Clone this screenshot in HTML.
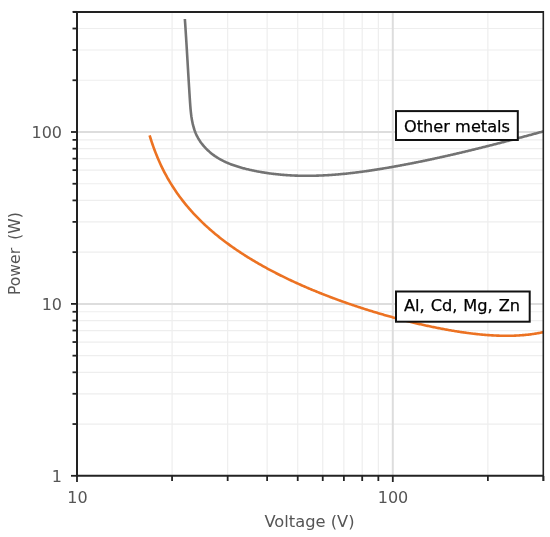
<!DOCTYPE html>
<html><head><meta charset="utf-8"><style>html,body{margin:0;padding:0;background:#fff;}svg{display:block;}</style></head>
<body>
<svg width="550" height="537" viewBox="0 0 550 537">
<rect width="550" height="537" fill="#fff"/>
<line x1="172.07" y1="12" x2="172.07" y2="475" stroke="#eeeeee" stroke-width="1.2"/>
<line x1="227.67" y1="12" x2="227.67" y2="475" stroke="#eeeeee" stroke-width="1.2"/>
<line x1="267.13" y1="12" x2="267.13" y2="475" stroke="#eeeeee" stroke-width="1.2"/>
<line x1="297.73" y1="12" x2="297.73" y2="475" stroke="#eeeeee" stroke-width="1.2"/>
<line x1="322.74" y1="12" x2="322.74" y2="475" stroke="#eeeeee" stroke-width="1.2"/>
<line x1="343.88" y1="12" x2="343.88" y2="475" stroke="#eeeeee" stroke-width="1.2"/>
<line x1="362.20" y1="12" x2="362.20" y2="475" stroke="#eeeeee" stroke-width="1.2"/>
<line x1="378.35" y1="12" x2="378.35" y2="475" stroke="#eeeeee" stroke-width="1.2"/>
<line x1="487.87" y1="12" x2="487.87" y2="475" stroke="#eeeeee" stroke-width="1.2"/>
<line x1="78" y1="424.05" x2="543" y2="424.05" stroke="#eeeeee" stroke-width="1.2"/>
<line x1="78" y1="393.78" x2="543" y2="393.78" stroke="#eeeeee" stroke-width="1.2"/>
<line x1="78" y1="372.31" x2="543" y2="372.31" stroke="#eeeeee" stroke-width="1.2"/>
<line x1="78" y1="355.65" x2="543" y2="355.65" stroke="#eeeeee" stroke-width="1.2"/>
<line x1="78" y1="342.04" x2="543" y2="342.04" stroke="#eeeeee" stroke-width="1.2"/>
<line x1="78" y1="330.53" x2="543" y2="330.53" stroke="#eeeeee" stroke-width="1.2"/>
<line x1="78" y1="320.56" x2="543" y2="320.56" stroke="#eeeeee" stroke-width="1.2"/>
<line x1="78" y1="311.77" x2="543" y2="311.77" stroke="#eeeeee" stroke-width="1.2"/>
<line x1="78" y1="252.15" x2="543" y2="252.15" stroke="#eeeeee" stroke-width="1.2"/>
<line x1="78" y1="221.88" x2="543" y2="221.88" stroke="#eeeeee" stroke-width="1.2"/>
<line x1="78" y1="200.41" x2="543" y2="200.41" stroke="#eeeeee" stroke-width="1.2"/>
<line x1="78" y1="183.75" x2="543" y2="183.75" stroke="#eeeeee" stroke-width="1.2"/>
<line x1="78" y1="170.14" x2="543" y2="170.14" stroke="#eeeeee" stroke-width="1.2"/>
<line x1="78" y1="158.63" x2="543" y2="158.63" stroke="#eeeeee" stroke-width="1.2"/>
<line x1="78" y1="148.66" x2="543" y2="148.66" stroke="#eeeeee" stroke-width="1.2"/>
<line x1="78" y1="139.87" x2="543" y2="139.87" stroke="#eeeeee" stroke-width="1.2"/>
<line x1="78" y1="80.25" x2="543" y2="80.25" stroke="#eeeeee" stroke-width="1.2"/>
<line x1="78" y1="49.98" x2="543" y2="49.98" stroke="#eeeeee" stroke-width="1.2"/>
<line x1="78" y1="28.51" x2="543" y2="28.51" stroke="#eeeeee" stroke-width="1.2"/>
<line x1="392.80" y1="12" x2="392.80" y2="475" stroke="#dddddd" stroke-width="2"/>
<line x1="78" y1="303.90" x2="543" y2="303.90" stroke="#dddddd" stroke-width="2"/>
<line x1="78" y1="132.00" x2="543" y2="132.00" stroke="#dddddd" stroke-width="2"/>
<path d="M184.86,19.00 L184.88,19.27 L184.94,20.09 L184.99,20.91 L185.05,21.73 L185.11,22.54 L185.16,23.36 L185.22,24.18 L185.27,24.99 L185.33,25.81 L185.38,26.62 L185.43,27.43 L185.49,28.25 L185.54,29.06 L185.59,29.87 L185.64,30.68 L185.70,31.49 L185.75,32.30 L185.80,33.11 L185.85,33.91 L185.90,34.72 L185.96,35.53 L186.01,36.33 L186.06,37.14 L186.11,37.94 L186.16,38.75 L186.21,39.55 L186.26,40.36 L186.31,41.16 L186.36,41.96 L186.41,42.77 L186.46,43.57 L186.51,44.37 L186.56,45.17 L186.61,45.98 L186.65,46.78 L186.70,47.58 L186.75,48.38 L186.80,49.18 L186.85,49.98 L186.90,50.78 L186.95,51.58 L186.99,52.38 L187.04,53.18 L187.09,53.98 L187.14,54.77 L187.19,55.57 L187.23,56.37 L187.28,57.17 L187.33,57.97 L187.38,58.77 L187.42,59.57 L187.47,60.37 L187.52,61.16 L187.57,61.96 L187.61,62.76 L187.66,63.56 L187.71,64.36 L187.76,65.16 L187.80,65.96 L187.85,66.76 L187.90,67.56 L187.95,68.36 L187.99,69.15 L188.04,69.95 L188.09,70.75 L188.14,71.55 L188.18,72.36 L188.23,73.16 L188.28,73.96 L188.33,74.76 L188.38,75.56 L188.42,76.36 L188.47,77.16 L188.52,77.97 L188.57,78.77 L188.62,79.57 L188.67,80.38 L188.71,81.18 L188.76,81.99 L188.81,82.79 L188.86,83.60 L188.91,84.40 L188.96,85.21 L189.01,86.02 L189.06,86.83 L189.11,87.63 L189.16,88.44 L189.21,89.25 L189.26,90.06 L189.31,90.87 L189.36,91.68 L189.41,92.50 L189.46,93.31 L189.52,94.12 L189.57,94.94 L189.62,95.75 L189.67,96.57 L189.72,97.38 L189.78,98.20 L189.83,99.02 L189.88,99.84 L189.94,100.66 L189.99,101.48 L190.05,102.30 L190.10,103.12 L190.16,103.94 L190.22,104.77 L190.28,105.59 L190.34,106.41 L190.41,107.23 L190.47,108.05 L190.54,108.87 L190.62,109.69 L190.70,110.51 L190.78,111.33 L190.86,112.14 L190.95,112.96 L191.05,113.77 L191.14,114.59 L191.25,115.40 L191.36,116.20 L191.47,117.01 L191.60,117.81 L191.72,118.62 L191.86,119.42 L192.00,120.21 L192.15,121.01 L192.30,121.80 L192.46,122.58 L192.64,123.37 L192.81,124.15 L193.00,124.93 L193.20,125.70 L193.40,126.47 L193.62,127.24 L193.84,128.00 L194.08,128.76 L194.32,129.51 L194.58,130.26 L194.84,131.00 L195.12,131.74 L195.40,132.47 L195.70,133.20 L196.01,133.93 L196.34,134.64 L196.67,135.36 L197.02,136.06 L197.38,136.76 L197.75,137.46 L198.13,138.15 L198.53,138.83 L198.94,139.51 L199.36,140.18 L199.79,140.84 L200.23,141.50 L200.68,142.15 L201.15,142.79 L201.62,143.43 L202.11,144.06 L202.60,144.68 L203.11,145.30 L203.62,145.91 L204.14,146.51 L204.68,147.11 L205.22,147.70 L205.77,148.28 L206.33,148.85 L206.90,149.42 L207.47,149.98 L208.06,150.53 L208.65,151.07 L209.25,151.61 L209.86,152.14 L210.47,152.66 L211.09,153.17 L211.72,153.67 L212.36,154.17 L213.00,154.66 L213.65,155.13 L214.30,155.60 L214.96,156.07 L215.63,156.52 L216.30,156.96 L216.97,157.40 L217.66,157.83 L218.34,158.24 L219.03,158.66 L219.73,159.06 L220.43,159.45 L221.14,159.84 L221.85,160.22 L222.56,160.59 L223.28,160.95 L224.00,161.31 L224.73,161.66 L225.46,162.00 L226.19,162.33 L226.93,162.66 L227.67,162.98 L228.42,163.29 L229.17,163.60 L229.92,163.90 L230.68,164.20 L231.43,164.49 L232.19,164.77 L232.96,165.05 L233.72,165.32 L234.49,165.59 L235.27,165.85 L236.04,166.10 L236.81,166.35 L237.59,166.59 L238.37,166.83 L239.15,167.07 L239.94,167.30 L240.72,167.52 L241.51,167.74 L242.30,167.96 L243.09,168.17 L243.88,168.38 L244.67,168.58 L245.46,168.79 L246.26,168.98 L247.05,169.17 L247.85,169.36 L248.64,169.55 L249.44,169.73 L250.23,169.91 L251.03,170.09 L251.83,170.26 L252.62,170.43 L253.42,170.60 L254.22,170.77 L255.01,170.93 L255.81,171.09 L256.61,171.24 L257.41,171.40 L258.20,171.55 L259.00,171.69 L259.80,171.84 L260.60,171.98 L261.40,172.12 L262.19,172.26 L262.99,172.39 L263.79,172.52 L264.59,172.65 L265.39,172.77 L266.19,172.89 L266.99,173.01 L267.79,173.13 L268.59,173.24 L269.39,173.36 L270.19,173.46 L270.99,173.57 L271.79,173.67 L272.59,173.77 L273.39,173.87 L274.19,173.97 L274.99,174.06 L275.79,174.15 L276.59,174.24 L277.39,174.32 L278.20,174.41 L279.00,174.49 L279.80,174.57 L280.60,174.64 L281.40,174.71 L282.20,174.78 L283.01,174.85 L283.81,174.92 L284.61,174.98 L285.41,175.04 L286.21,175.10 L287.02,175.15 L287.82,175.21 L288.62,175.26 L289.42,175.31 L290.23,175.35 L291.03,175.40 L291.83,175.44 L292.64,175.48 L293.44,175.51 L294.24,175.55 L295.04,175.58 L295.85,175.61 L296.65,175.64 L297.45,175.67 L298.26,175.69 L299.06,175.71 L299.86,175.73 L300.67,175.75 L301.47,175.76 L302.28,175.77 L303.08,175.79 L303.88,175.79 L304.69,175.80 L305.49,175.80 L306.29,175.81 L307.10,175.81 L307.90,175.81 L308.71,175.80 L309.51,175.80 L310.32,175.79 L311.12,175.78 L311.92,175.77 L312.73,175.75 L313.53,175.74 L314.34,175.72 L315.14,175.70 L315.94,175.68 L316.75,175.66 L317.55,175.63 L318.36,175.60 L319.16,175.57 L319.97,175.54 L320.77,175.51 L321.57,175.48 L322.38,175.44 L323.18,175.40 L323.99,175.36 L324.79,175.32 L325.60,175.28 L326.40,175.23 L327.20,175.19 L328.01,175.14 L328.81,175.09 L329.62,175.04 L330.42,174.98 L331.23,174.93 L332.03,174.87 L332.83,174.81 L333.64,174.75 L334.44,174.69 L335.25,174.63 L336.05,174.56 L336.85,174.50 L337.66,174.43 L338.46,174.36 L339.27,174.29 L340.07,174.22 L340.87,174.14 L341.68,174.07 L342.48,173.99 L343.28,173.92 L344.09,173.84 L344.89,173.75 L345.69,173.67 L346.50,173.59 L347.30,173.50 L348.10,173.42 L348.91,173.33 L349.71,173.24 L350.51,173.15 L351.32,173.06 L352.12,172.97 L352.92,172.87 L353.72,172.78 L354.53,172.68 L355.33,172.58 L356.13,172.48 L356.93,172.38 L357.74,172.28 L358.54,172.18 L359.34,172.07 L360.14,171.97 L360.94,171.86 L361.75,171.75 L362.55,171.65 L363.35,171.54 L364.15,171.42 L364.95,171.31 L365.75,171.20 L366.55,171.09 L367.35,170.97 L368.16,170.86 L368.96,170.74 L369.76,170.62 L370.56,170.50 L371.36,170.38 L372.16,170.26 L372.96,170.14 L373.76,170.02 L374.56,169.89 L375.36,169.77 L376.16,169.64 L376.96,169.52 L377.76,169.39 L378.56,169.26 L379.35,169.13 L380.15,169.00 L380.95,168.87 L381.75,168.74 L382.55,168.61 L383.35,168.48 L384.14,168.34 L384.94,168.21 L385.74,168.07 L386.54,167.94 L387.34,167.80 L388.13,167.66 L388.93,167.53 L389.73,167.39 L390.52,167.25 L391.32,167.11 L392.12,166.97 L392.91,166.83 L393.71,166.69 L394.50,166.54 L395.30,166.40 L396.09,166.26 L396.89,166.11 L397.69,165.97 L398.48,165.82 L399.28,165.68 L400.07,165.53 L400.86,165.38 L401.66,165.24 L402.45,165.09 L403.25,164.94 L404.04,164.79 L404.83,164.64 L405.63,164.49 L406.42,164.34 L407.21,164.18 L408.01,164.03 L408.80,163.88 L409.59,163.73 L410.39,163.57 L411.18,163.42 L411.97,163.26 L412.76,163.11 L413.55,162.95 L414.35,162.79 L415.14,162.64 L415.93,162.48 L416.72,162.32 L417.51,162.16 L418.30,162.00 L419.09,161.84 L419.88,161.68 L420.68,161.52 L421.47,161.36 L422.26,161.19 L423.05,161.03 L423.84,160.87 L424.63,160.70 L425.42,160.54 L426.21,160.37 L427.00,160.21 L427.78,160.04 L428.57,159.88 L429.36,159.71 L430.15,159.54 L430.94,159.37 L431.73,159.20 L432.52,159.04 L433.31,158.87 L434.10,158.70 L434.88,158.53 L435.67,158.35 L436.46,158.18 L437.25,158.01 L438.04,157.84 L438.82,157.67 L439.61,157.49 L440.40,157.32 L441.19,157.14 L441.97,156.97 L442.76,156.79 L443.55,156.62 L444.33,156.44 L445.12,156.27 L445.91,156.09 L446.69,155.91 L447.48,155.73 L448.27,155.56 L449.05,155.38 L449.84,155.20 L450.63,155.02 L451.41,154.84 L452.20,154.66 L452.98,154.48 L453.77,154.29 L454.55,154.11 L455.34,153.93 L456.12,153.75 L456.91,153.56 L457.70,153.38 L458.48,153.20 L459.27,153.01 L460.05,152.83 L460.83,152.64 L461.62,152.46 L462.40,152.27 L463.19,152.09 L463.97,151.90 L464.76,151.71 L465.54,151.52 L466.33,151.34 L467.11,151.15 L467.89,150.96 L468.68,150.77 L469.46,150.58 L470.25,150.39 L471.03,150.20 L471.81,150.01 L472.60,149.82 L473.38,149.63 L474.16,149.44 L474.95,149.25 L475.73,149.05 L476.51,148.86 L477.30,148.67 L478.08,148.48 L478.86,148.28 L479.64,148.09 L480.43,147.89 L481.21,147.70 L481.99,147.50 L482.78,147.31 L483.56,147.11 L484.34,146.92 L485.12,146.72 L485.91,146.53 L486.69,146.33 L487.47,146.13 L488.25,145.93 L489.03,145.74 L489.82,145.54 L490.60,145.34 L491.38,145.14 L492.16,144.94 L492.94,144.74 L493.73,144.54 L494.51,144.34 L495.29,144.14 L496.07,143.94 L496.85,143.74 L497.63,143.54 L498.42,143.34 L499.20,143.14 L499.98,142.94 L500.76,142.74 L501.54,142.53 L502.32,142.33 L503.10,142.13 L503.89,141.93 L504.67,141.72 L505.45,141.52 L506.23,141.32 L507.01,141.11 L507.79,140.91 L508.57,140.70 L509.35,140.50 L510.14,140.29 L510.92,140.09 L511.70,139.88 L512.48,139.68 L513.26,139.47 L514.04,139.27 L514.82,139.06 L515.60,138.85 L516.38,138.65 L517.16,138.44 L517.94,138.23 L518.72,138.02 L519.51,137.82 L520.29,137.61 L521.07,137.40 L521.85,137.19 L522.63,136.99 L523.41,136.78 L524.19,136.57 L524.97,136.36 L525.75,136.15 L526.53,135.94 L527.31,135.73 L528.09,135.52 L528.87,135.31 L529.65,135.10 L530.43,134.89 L531.22,134.68 L532.00,134.47 L532.78,134.26 L533.56,134.05 L534.34,133.84 L535.12,133.63 L535.90,133.42 L536.68,133.21 L537.46,133.00 L538.24,132.78 L539.02,132.57 L539.80,132.36 L540.58,132.15 L541.36,131.94 L542.14,131.72 L542.92,131.51 L543.71,131.30 L544.49,131.09" fill="none" stroke="#737373" stroke-width="2.6" stroke-linejoin="round" stroke-linecap="butt"/>
<path d="M149.60,135.28 L150.59,138.50 L151.58,141.57 L152.57,144.51 L153.56,147.32 L154.55,150.01 L155.54,152.60 L156.53,155.09 L157.52,157.50 L158.50,159.82 L159.49,162.06 L160.48,164.23 L161.47,166.33 L162.46,168.37 L163.45,170.36 L164.44,172.28 L165.43,174.16 L166.42,175.98 L167.41,177.76 L168.40,179.49 L169.39,181.18 L170.38,182.83 L171.37,184.44 L172.36,186.02 L173.35,187.56 L174.34,189.07 L175.33,190.55 L176.31,192.00 L177.30,193.42 L178.29,194.81 L179.28,196.18 L180.27,197.52 L181.26,198.83 L182.25,200.12 L183.24,201.39 L184.23,202.64 L185.22,203.87 L186.21,205.08 L187.20,206.26 L188.19,207.43 L189.18,208.58 L190.17,209.72 L191.16,210.83 L192.15,211.93 L193.14,213.02 L194.12,214.08 L195.11,215.14 L196.10,216.18 L197.09,217.20 L198.08,218.21 L199.07,219.21 L200.06,220.19 L201.05,221.17 L202.04,222.13 L203.03,223.08 L204.02,224.01 L205.01,224.94 L206.00,225.85 L206.99,226.76 L207.98,227.65 L208.97,228.53 L209.96,229.41 L210.95,230.27 L211.93,231.13 L212.92,231.97 L213.91,232.81 L214.90,233.63 L215.89,234.45 L216.88,235.26 L217.87,236.07 L218.86,236.86 L219.85,237.65 L220.84,238.43 L221.83,239.20 L222.82,239.96 L223.81,240.72 L224.80,241.47 L225.79,242.21 L226.78,242.95 L227.77,243.67 L228.76,244.40 L229.74,245.11 L230.73,245.82 L231.72,246.53 L232.71,247.22 L233.70,247.92 L234.69,248.60 L235.68,249.28 L236.67,249.96 L237.66,250.63 L238.65,251.29 L239.64,251.95 L240.63,252.60 L241.62,253.25 L242.61,253.89 L243.60,254.53 L244.59,255.16 L245.58,255.79 L246.57,256.41 L247.55,257.03 L248.54,257.65 L249.53,258.26 L250.52,258.86 L251.51,259.46 L252.50,260.06 L253.49,260.65 L254.48,261.24 L255.47,261.82 L256.46,262.40 L257.45,262.98 L258.44,263.55 L259.43,264.12 L260.42,264.68 L261.41,265.24 L262.40,265.80 L263.39,266.35 L264.37,266.90 L265.36,267.44 L266.35,267.98 L267.34,268.52 L268.33,269.06 L269.32,269.59 L270.31,270.12 L271.30,270.64 L272.29,271.16 L273.28,271.68 L274.27,272.20 L275.26,272.71 L276.25,273.22 L277.24,273.72 L278.23,274.22 L279.22,274.72 L280.21,275.22 L281.20,275.71 L282.18,276.20 L283.17,276.69 L284.16,277.17 L285.15,277.65 L286.14,278.13 L287.13,278.61 L288.12,279.08 L289.11,279.55 L290.10,280.02 L291.09,280.49 L292.08,280.95 L293.07,281.41 L294.06,281.87 L295.05,282.32 L296.04,282.77 L297.03,283.22 L298.02,283.67 L299.01,284.12 L299.99,284.56 L300.98,285.00 L301.97,285.44 L302.96,285.87 L303.95,286.30 L304.94,286.73 L305.93,287.16 L306.92,287.59 L307.91,288.01 L308.90,288.43 L309.89,288.85 L310.88,289.27 L311.87,289.68 L312.86,290.09 L313.85,290.51 L314.84,290.91 L315.83,291.32 L316.82,291.72 L317.80,292.13 L318.79,292.52 L319.78,292.92 L320.77,293.32 L321.76,293.71 L322.75,294.10 L323.74,294.49 L324.73,294.88 L325.72,295.27 L326.71,295.65 L327.70,296.03 L328.69,296.41 L329.68,296.79 L330.67,297.16 L331.66,297.54 L332.65,297.91 L333.64,298.28 L334.63,298.65 L335.61,299.01 L336.60,299.38 L337.59,299.74 L338.58,300.10 L339.57,300.46 L340.56,300.82 L341.55,301.18 L342.54,301.53 L343.53,301.88 L344.52,302.23 L345.51,302.58 L346.50,302.93 L347.49,303.27 L348.48,303.61 L349.47,303.96 L350.46,304.30 L351.45,304.63 L352.44,304.97 L353.42,305.31 L354.41,305.64 L355.40,305.97 L356.39,306.30 L357.38,306.63 L358.37,306.95 L359.36,307.28 L360.35,307.60 L361.34,307.92 L362.33,308.24 L363.32,308.56 L364.31,308.88 L365.30,309.19 L366.29,309.51 L367.28,309.82 L368.27,310.13 L369.26,310.44 L370.24,310.75 L371.23,311.05 L372.22,311.35 L373.21,311.66 L374.20,311.96 L375.19,312.26 L376.18,312.55 L377.17,312.85 L378.16,313.15 L379.15,313.44 L380.14,313.73 L381.13,314.02 L382.12,314.31 L383.11,314.59 L384.10,314.88 L385.09,315.16 L386.08,315.45 L387.07,315.73 L388.05,316.01 L389.04,316.28 L390.03,316.56 L391.02,316.83 L392.01,317.11 L393.00,317.38 L393.99,317.65 L394.98,317.92 L395.97,318.18 L396.96,318.45 L397.95,318.71 L398.94,318.97 L399.93,319.23 L400.92,319.49 L401.91,319.75 L402.90,320.01 L403.89,320.26 L404.88,320.51 L405.86,320.76 L406.85,321.01 L407.84,321.26 L408.83,321.51 L409.82,321.75 L410.81,322.00 L411.80,322.24 L412.79,322.48 L413.78,322.72 L414.77,322.95 L415.76,323.19 L416.75,323.42 L417.74,323.65 L418.73,323.88 L419.72,324.11 L420.71,324.34 L421.70,324.57 L422.69,324.79 L423.67,325.01 L424.66,325.23 L425.65,325.45 L426.64,325.67 L427.63,325.88 L428.62,326.10 L429.61,326.31 L430.60,326.52 L431.59,326.73 L432.58,326.93 L433.57,327.14 L434.56,327.34 L435.55,327.54 L436.54,327.74 L437.53,327.94 L438.52,328.14 L439.51,328.33 L440.50,328.52 L441.48,328.71 L442.47,328.90 L443.46,329.09 L444.45,329.27 L445.44,329.45 L446.43,329.63 L447.42,329.81 L448.41,329.99 L449.40,330.16 L450.39,330.33 L451.38,330.50 L452.37,330.67 L453.36,330.84 L454.35,331.00 L455.34,331.16 L456.33,331.32 L457.32,331.48 L458.30,331.63 L459.29,331.79 L460.28,331.94 L461.27,332.09 L462.26,332.23 L463.25,332.37 L464.24,332.52 L465.23,332.65 L466.22,332.79 L467.21,332.92 L468.20,333.06 L469.19,333.18 L470.18,333.31 L471.17,333.43 L472.16,333.55 L473.15,333.67 L474.14,333.79 L475.13,333.90 L476.11,334.01 L477.10,334.12 L478.09,334.22 L479.08,334.32 L480.07,334.42 L481.06,334.52 L482.05,334.61 L483.04,334.70 L484.03,334.78 L485.02,334.87 L486.01,334.95 L487.00,335.02 L487.99,335.10 L488.98,335.17 L489.97,335.23 L490.96,335.30 L491.95,335.36 L492.94,335.41 L493.92,335.46 L494.91,335.51 L495.90,335.56 L496.89,335.60 L497.88,335.64 L498.87,335.67 L499.86,335.70 L500.85,335.73 L501.84,335.75 L502.83,335.77 L503.82,335.78 L504.81,335.79 L505.80,335.80 L506.79,335.80 L507.78,335.79 L508.77,335.79 L509.76,335.77 L510.75,335.76 L511.73,335.73 L512.72,335.71 L513.71,335.68 L514.70,335.64 L515.69,335.60 L516.68,335.55 L517.67,335.50 L518.66,335.45 L519.65,335.39 L520.64,335.32 L521.63,335.25 L522.62,335.17 L523.61,335.09 L524.60,335.00 L525.59,334.90 L526.58,334.81 L527.57,334.70 L528.56,334.59 L529.54,334.47 L530.53,334.35 L531.52,334.22 L532.51,334.08 L533.50,333.94 L534.49,333.79 L535.48,333.63 L536.47,333.47 L537.46,333.30 L538.45,333.13 L539.44,332.95 L540.43,332.76 L541.42,332.56 L542.41,332.36 L543.40,332.15 L544.39,331.93" fill="none" stroke="#EC7222" stroke-width="2.6" stroke-linejoin="round" stroke-linecap="butt"/>
<rect x="544" y="0" width="6" height="537" fill="#fff"/>
<line x1="77" y1="11" x2="77" y2="477" stroke="#222" stroke-width="2"/>
<line x1="76" y1="475.8" x2="544" y2="475.8" stroke="#222" stroke-width="2"/>
<line x1="73" y1="12" x2="544" y2="12" stroke="#222" stroke-width="2"/>
<line x1="543.3" y1="11" x2="543.3" y2="481" stroke="#222" stroke-width="1.6"/>
<line x1="71" y1="475.80" x2="77" y2="475.80" stroke="#222" stroke-width="1.8"/>
<line x1="71" y1="303.90" x2="77" y2="303.90" stroke="#222" stroke-width="1.8"/>
<line x1="71" y1="132.00" x2="77" y2="132.00" stroke="#222" stroke-width="1.8"/>
<line x1="72.5" y1="424.05" x2="77" y2="424.05" stroke="#222" stroke-width="1.8"/>
<line x1="72.5" y1="393.78" x2="77" y2="393.78" stroke="#222" stroke-width="1.8"/>
<line x1="72.5" y1="372.31" x2="77" y2="372.31" stroke="#222" stroke-width="1.8"/>
<line x1="72.5" y1="355.65" x2="77" y2="355.65" stroke="#222" stroke-width="1.8"/>
<line x1="72.5" y1="342.04" x2="77" y2="342.04" stroke="#222" stroke-width="1.8"/>
<line x1="72.5" y1="330.53" x2="77" y2="330.53" stroke="#222" stroke-width="1.8"/>
<line x1="72.5" y1="320.56" x2="77" y2="320.56" stroke="#222" stroke-width="1.8"/>
<line x1="72.5" y1="311.77" x2="77" y2="311.77" stroke="#222" stroke-width="1.8"/>
<line x1="72.5" y1="252.15" x2="77" y2="252.15" stroke="#222" stroke-width="1.8"/>
<line x1="72.5" y1="221.88" x2="77" y2="221.88" stroke="#222" stroke-width="1.8"/>
<line x1="72.5" y1="200.41" x2="77" y2="200.41" stroke="#222" stroke-width="1.8"/>
<line x1="72.5" y1="183.75" x2="77" y2="183.75" stroke="#222" stroke-width="1.8"/>
<line x1="72.5" y1="170.14" x2="77" y2="170.14" stroke="#222" stroke-width="1.8"/>
<line x1="72.5" y1="158.63" x2="77" y2="158.63" stroke="#222" stroke-width="1.8"/>
<line x1="72.5" y1="148.66" x2="77" y2="148.66" stroke="#222" stroke-width="1.8"/>
<line x1="72.5" y1="139.87" x2="77" y2="139.87" stroke="#222" stroke-width="1.8"/>
<line x1="72.5" y1="80.25" x2="77" y2="80.25" stroke="#222" stroke-width="1.8"/>
<line x1="72.5" y1="49.98" x2="77" y2="49.98" stroke="#222" stroke-width="1.8"/>
<line x1="72.5" y1="28.51" x2="77" y2="28.51" stroke="#222" stroke-width="1.8"/>
<line x1="72.5" y1="11.85" x2="77" y2="11.85" stroke="#222" stroke-width="1.8"/>
<line x1="77.00" y1="476" x2="77.00" y2="482" stroke="#222" stroke-width="1.8"/>
<line x1="392.80" y1="476" x2="392.80" y2="482" stroke="#222" stroke-width="1.8"/>
<line x1="172.07" y1="476" x2="172.07" y2="481" stroke="#222" stroke-width="1.8"/>
<line x1="227.67" y1="476" x2="227.67" y2="481" stroke="#222" stroke-width="1.8"/>
<line x1="267.13" y1="476" x2="267.13" y2="481" stroke="#222" stroke-width="1.8"/>
<line x1="297.73" y1="476" x2="297.73" y2="481" stroke="#222" stroke-width="1.8"/>
<line x1="322.74" y1="476" x2="322.74" y2="481" stroke="#222" stroke-width="1.8"/>
<line x1="343.88" y1="476" x2="343.88" y2="481" stroke="#222" stroke-width="1.8"/>
<line x1="362.20" y1="476" x2="362.20" y2="481" stroke="#222" stroke-width="1.8"/>
<line x1="378.35" y1="476" x2="378.35" y2="481" stroke="#222" stroke-width="1.8"/>
<line x1="487.87" y1="476" x2="487.87" y2="481" stroke="#222" stroke-width="1.8"/>
<line x1="543.47" y1="476" x2="543.47" y2="481" stroke="#222" stroke-width="1.8"/>
<text x="62" y="137.5" font-family="DejaVu Sans, Verdana, sans-serif" font-size="16" fill="#555555" text-anchor="end">100</text>
<text x="62" y="309.5" font-family="DejaVu Sans, Verdana, sans-serif" font-size="16" fill="#555555" text-anchor="end">10</text>
<text x="62" y="481.5" font-family="DejaVu Sans, Verdana, sans-serif" font-size="16" fill="#555555" text-anchor="end">1</text>
<text x="77.5" y="502.5" font-family="DejaVu Sans, Verdana, sans-serif" font-size="16" fill="#555555" text-anchor="middle">10</text>
<text x="393" y="502.5" font-family="DejaVu Sans, Verdana, sans-serif" font-size="16" fill="#555555" text-anchor="middle">100</text>
<text x="309.5" y="526.5" font-family="DejaVu Sans, Verdana, sans-serif" font-size="16.3" fill="#555555" text-anchor="middle">Voltage (V)</text>
<text transform="translate(20,253.6) rotate(-90)" font-family="DejaVu Sans, Verdana, sans-serif" font-size="15.6" fill="#555555" text-anchor="middle" word-spacing="3.2">Power (W)</text>
<rect x="396" y="111.1" width="121.8" height="28.9" fill="#fff" stroke="#111" stroke-width="2"/>
<text x="404" y="131.5" font-family="DejaVu Sans, Verdana, sans-serif" font-size="16.2" fill="#000" stroke="#000" stroke-width="0.25">Other metals</text>
<rect x="396" y="291.5" width="133.7" height="30.2" fill="#fff" stroke="#111" stroke-width="2"/>
<text x="404" y="311" font-family="DejaVu Sans, Verdana, sans-serif" font-size="16.2" fill="#000" stroke="#000" stroke-width="0.25" word-spacing="0.8">Al, Cd, Mg, Zn</text>
</svg>
</body></html>
